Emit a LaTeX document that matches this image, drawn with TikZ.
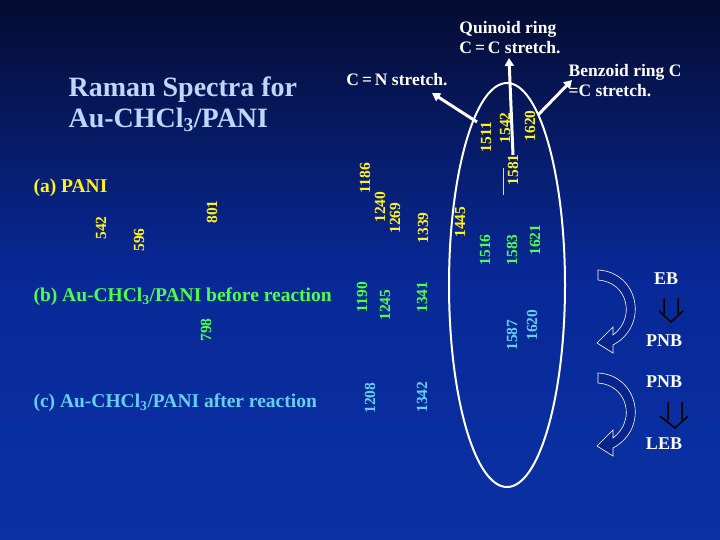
\documentclass[tikz,border=0pt]{standalone}
\usepackage{fontspec}
\setmainfont{Liberation Serif}
\begin{document}
\begin{tikzpicture}[x=1pt,y=-1pt,
  num/.style={rotate=90,font=\bfseries\fontsize{15.5}{15}\selectfont,inner sep=0pt},
  na/.style={num,text=yellow!90!white},
  nb/.style={num,text=green!70!white},
  nc/.style={num,text=cyan!60!white},
  lab/.style={font=\bfseries\fontsize{17.5}{20}\selectfont,text=white,inner sep=0pt},
  wa/.style={draw=white,line width=3pt,-{Triangle[length=8pt,width=9pt]}},
  curv/.style={draw=white,line width=0.6pt,fill={rgb,255:red,8;green,35;blue,140}},
  darr/.style={draw=black,line width=1.5pt}]
\usetikzlibrary{arrows.meta}
\shade[top color={rgb,255:red,5;green,12;blue,50},bottom color={rgb,255:red,10;green,50;blue,165},middle color={rgb,255:red,8;green,40;blue,150}] (0,0) rectangle (720,540);
\useasboundingbox (0,0) rectangle (720,540);
% title
\node[anchor=west,font=\bfseries\fontsize{28}{31}\selectfont,text={rgb,255:red,190;green,215;blue,255},align=left] (title) at (65,104) {Raman Spectra for\\Au-CHCl\textsubscript{3}/PANI};
\node[anchor=west,font=\bfseries\fontsize{19.5}{20}\selectfont,text=yellow!90!white] (la) at (30,188) {(a) PANI};
\node[anchor=west,font=\bfseries\fontsize{19.5}{20}\selectfont,text=green!70!white] (lb) at (30,297) {(b) Au-CHCl\textsubscript{3}/PANI before reaction};
\node[anchor=west,font=\bfseries\fontsize{19.5}{20}\selectfont,text=cyan!60!white] (lc) at (30,403) {(c) Au-CHCl\textsubscript{3}/PANI after reaction};
% (a)
\node[na] (a542) at (101,228) {542};
\node[na] (a596) at (139,240) {596};
\node[na] (a801) at (212,212) {801};
\node[na] (a1186) at (365,178) {1186};
\node[na] (a1240) at (380,207) {1240};
\node[na] (a1269) at (395,218) {1269};
\node[na] (a1339) at (423,228) {1339};
\node[na] (a1445) at (460,222) {1445};
\node[na] (a1511) at (486,137) {1511};
\node[na] (a1542) at (505,128) {1542};
\node[na] (a1620) at (530,126) {1620};
\node[na] (a1581) at (513,170) {1581};
\draw[yellow!90!white,line width=0.8pt] (503,168) -- (503,195);
% (b)
\node[nb] (b798) at (206,330) {798};
\node[nb] (b1190) at (362,297) {1190};
\node[nb] (b1245) at (385,305) {1245};
\node[nb] (b1341) at (422,297) {1341};
\node[nb] (b1516) at (485,250) {1516};
\node[nb] (b1583) at (512,250) {1583};
\node[nb] (b1621) at (535,240) {1621};
\node[nc] (b1587) at (512,335) {1587};
\node[nc] (b1620) at (532,325) {1620};
% (c)
\node[nc] (c1208) at (370,398) {1208};
\node[nc] (c1342) at (422,397) {1342};
% ellipse
\draw[white,line width=2pt] (507,285) ellipse [x radius=58,y radius=202];
% annotations
\node[lab,align=left] (quin) at (510,38) {Quinoid ring\\C{\,=\,}C stretch.};
\node[lab] (cn) at (397,80) {C{\,=\,}N stretch.};
\node[lab,align=left] (benz) at (625,81) {Benzoid ring C\\{=}C stretch.};
\coordinate (q0) at (513,155); \coordinate (q1) at (509,58);
\coordinate (c0) at (477,122); \coordinate (c1) at (432,93);
\coordinate (z0) at (538,115); \coordinate (z1) at (572,80);
\draw[wa] (q0) -- (q1);
\draw[wa] (c0) -- (c1);
\draw[wa] (z0) -- (z1);
% right side
\node[lab,font=\bfseries\fontsize{18}{18}\selectfont] (eb) at (666,279) {EB};
\node[lab,font=\bfseries\fontsize{18}{18}\selectfont] (pnb1) at (664,341) {PNB};
\node[lab,font=\bfseries\fontsize{18}{18}\selectfont] (pnb2) at (664,382) {PNB};
\node[lab,font=\bfseries\fontsize{18}{18}\selectfont] (leb) at (664,444) {LEB};
\foreach \y in {0,103}{
  \begin{scope}[yshift=-\y]
  \path[curv] (598,270) -- (598,280) .. controls (628,282) and (636,318) .. (613,335)
    -- (613,327) -- (597,343) -- (613,353) -- (613,345)
    .. controls (650,325) and (638,272) .. (598,270) -- cycle;
  \end{scope}}
\draw[darr] (664,298) -- (664,314) (678,298) -- (678,314) (659,311) -- (671,322) -- (683,311);
\draw[darr] (668,402) -- (668,420) (682,402) -- (682,420) (660,416) -- (675,428) -- (688,416);
\end{tikzpicture}
\end{document}
